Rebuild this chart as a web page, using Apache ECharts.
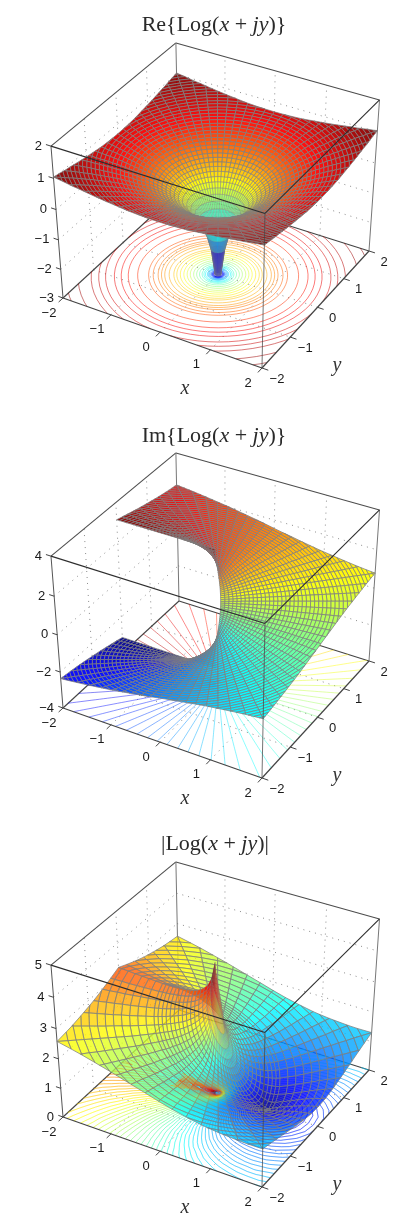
<!DOCTYPE html>
<html><head><meta charset="utf-8">
<style>html,body{margin:0;padding:0;background:#fff}#c{width:404px;height:1227px}</style>
<script src="https://cdn.jsdelivr.net/npm/echarts@6/dist/echarts.min.js"></script>
</head><body><div id="c"></div>
<script>
// ---------- values ----------
const xTicks=[-2,-1,0,1,2];
const yTicks=[-2,-1,0,1,2];
const zTicksRe=[-3,-2,-1,0,1,2];
const zTicksIm=[-4,-2,0,2,4];
const zTicksAbs=[0,1,2,3,4,5];
const ringR=[.05,.12,.19,.26,.33,.40,.47,.54,.61,.68,.75,.82,.89,.96,1.03,1.10,1.17,1.24,1.31,1.38,1.45,1.52,1.59,1.66,1.73,1.80,1.87,1.94,2.01,2.08,2.15,2.22,2.29,2.36,2.43,2.50,2.57,2.64,2.71,2.78,2.85];
const reZ=[-3,-2.12,-1.66,-1.35,-1.11,-.92,-.76,-.62,-.49,-.39,-.29,-.20,-.12,-.04,.03,.10,.16,.22,.27,.32,.37,.42,.46,.51,.55,.59,.63,.66,.70,.73,.77,.80,.83,.86,.89,.92,.94,.97,1.0,1.02,1.05];
const spokeDeg=[-180,-175,-170,-165,-160,-155,-150,-145,-140,-135,-130,-125,-120,-115,-110,-105,-100,-95,-90,-85,-80,-75,-70,-65,-60,-55,-50,-45,-40,-35,-30,-25,-20,-15,-10,-5,0,5,10,15,20,25,30,35,40,45,50,55,60,65,70,75,80,85,90,95,100,105,110,115,120,125,130,135,140,145,150,155,160,165,170,175,180];
const imZ=[-3.14,-3.05,-2.97,-2.88,-2.79,-2.71,-2.62,-2.53,-2.44,-2.36,-2.27,-2.18,-2.09,-2.01,-1.92,-1.83,-1.75,-1.66,-1.57,-1.48,-1.40,-1.31,-1.22,-1.13,-1.05,-.96,-.87,-.79,-.70,-.61,-.52,-.44,-.35,-.26,-.17,-.09,0,.09,.17,.26,.35,.44,.52,.61,.70,.79,.87,.96,1.05,1.13,1.22,1.31,1.40,1.48,1.57,1.66,1.75,1.83,1.92,2.01,2.09,2.18,2.27,2.36,2.44,2.53,2.62,2.71,2.79,2.88,2.97,3.05,3.14];
const absRingR=[.05,.12,.19,.26,.33,.40,.47,.54,.61,.68,.75,.82,.89,.96,1.03,1.10,1.24,1.38,1.52,1.66,1.80,1.94,2.08,2.22,2.36,2.50,2.64,2.85];
const absSpokeDeg=[-180,-172.5,-165,-157.5,-150,-142.5,-135,-127.5,-120,-112.5,-105,-97.5,-90,-82.5,-75,-67.5,-60,-52.5,-45,-37.5,-30,-22.5,-15,-7.5,0,7.5,15,22.5,30,37.5,45,52.5,60,67.5,75,82.5,90,97.5,105,112.5,120,127.5,135,142.5,150,157.5,165,172.5,180];
// rows: absRingR; columns: |angle| 0, 7.5, ... 180 degrees
const absZ=[
[3.00,3.00,3.01,3.03,3.05,3.07,3.10,3.14,3.18,3.22,3.27,3.33,3.39,3.45,3.52,3.59,3.66,3.74,3.81,3.90,3.98,4.07,4.16,4.25,4.34],
[2.12,2.12,2.14,2.16,2.18,2.22,2.26,2.31,2.36,2.43,2.49,2.56,2.64,2.72,2.80,2.89,2.98,3.07,3.17,3.27,3.37,3.47,3.58,3.68,3.79],
[1.66,1.67,1.68,1.71,1.74,1.78,1.84,1.90,1.96,2.04,2.11,2.20,2.29,2.38,2.47,2.57,2.67,2.78,2.88,2.99,3.10,3.21,3.32,3.44,3.55],
[1.35,1.36,1.38,1.41,1.45,1.50,1.56,1.63,1.71,1.79,1.88,1.97,2.07,2.17,2.28,2.38,2.49,2.60,2.72,2.83,2.95,3.06,3.18,3.30,3.42],
[1.11,1.12,1.14,1.18,1.23,1.29,1.36,1.44,1.53,1.62,1.72,1.82,1.92,2.03,2.14,2.26,2.37,2.49,2.60,2.72,2.84,2.96,3.09,3.21,3.33],
[.92,.93,.96,1.00,1.06,1.13,1.21,1.30,1.39,1.49,1.60,1.71,1.82,1.93,2.05,2.17,2.29,2.41,2.53,2.65,2.77,2.90,3.02,3.15,3.27],
[.76,.77,.80,.86,.92,1.00,1.09,1.19,1.29,1.40,1.51,1.63,1.75,1.86,1.98,2.11,2.23,2.35,2.48,2.60,2.73,2.85,2.98,3.11,3.23],
[.62,.63,.67,.73,.81,.90,1.00,1.11,1.22,1.33,1.45,1.57,1.69,1.81,1.93,2.06,2.18,2.31,2.44,2.56,2.69,2.82,2.95,3.07,3.20],
[.49,.51,.56,.63,.72,.82,.93,1.04,1.16,1.28,1.40,1.52,1.65,1.77,1.90,2.02,2.15,2.28,2.41,2.53,2.66,2.79,2.92,3.05,3.18],
[.39,.41,.47,.55,.65,.76,.88,1.00,1.12,1.24,1.37,1.49,1.62,1.75,1.87,2.00,2.13,2.26,2.39,2.52,2.65,2.78,2.91,3.04,3.17],
[.29,.32,.39,.49,.60,.72,.84,.96,1.09,1.21,1.34,1.47,1.60,1.73,1.86,1.98,2.11,2.24,2.37,2.50,2.63,2.76,2.89,3.02,3.16],
[.20,.24,.33,.44,.56,.68,.81,.94,1.07,1.19,1.32,1.45,1.58,1.71,1.84,1.97,2.10,2.23,2.36,2.50,2.63,2.76,2.89,3.02,3.15],
[.12,.18,.29,.41,.54,.66,.79,.92,1.05,1.18,1.31,1.44,1.58,1.71,1.84,1.97,2.10,2.23,2.36,2.49,2.62,2.75,2.88,3.01,3.14],
[.04,.14,.27,.40,.53,.66,.79,.92,1.05,1.18,1.31,1.44,1.57,1.70,1.83,1.96,2.09,2.23,2.36,2.49,2.62,2.75,2.88,3.01,3.14],
[.03,.13,.26,.39,.52,.65,.79,.92,1.05,1.18,1.31,1.44,1.57,1.70,1.83,1.96,2.09,2.23,2.36,2.49,2.62,2.75,2.88,3.01,3.14],
[.10,.16,.28,.40,.53,.66,.79,.92,1.05,1.18,1.31,1.44,1.57,1.70,1.84,1.97,2.10,2.23,2.36,2.49,2.62,2.75,2.88,3.01,3.14],
[.22,.25,.34,.45,.57,.69,.82,.94,1.07,1.20,1.33,1.46,1.59,1.72,1.85,1.98,2.11,2.24,2.37,2.50,2.63,2.76,2.89,3.02,3.15],
[.32,.34,.41,.51,.61,.73,.85,.97,1.09,1.22,1.35,1.47,1.60,1.73,1.86,1.99,2.12,2.25,2.38,2.51,2.64,2.77,2.90,3.03,3.16],
[.42,.44,.49,.57,.67,.78,.89,1.01,1.13,1.25,1.37,1.50,1.63,1.75,1.88,2.01,2.14,2.26,2.39,2.52,2.65,2.78,2.91,3.04,3.17],
[.51,.53,.57,.64,.73,.83,.94,1.05,1.16,1.28,1.40,1.53,1.65,1.78,1.90,2.03,2.16,2.28,2.41,2.54,2.67,2.80,2.92,3.05,3.18],
[.59,.60,.65,.71,.79,.88,.98,1.09,1.20,1.32,1.44,1.56,1.68,1.80,1.93,2.05,2.18,2.30,2.43,2.56,2.68,2.81,2.94,3.07,3.20],
[.66,.67,.71,.77,.84,.93,1.03,1.13,1.24,1.35,1.47,1.58,1.70,1.83,1.95,2.07,2.20,2.32,2.45,2.57,2.70,2.83,2.95,3.08,3.21],
[.73,.74,.78,.83,.90,.98,1.07,1.17,1.28,1.39,1.50,1.61,1.73,1.85,1.97,2.09,2.22,2.34,2.47,2.59,2.72,2.84,2.97,3.10,3.23],
[.80,.81,.84,.89,.96,1.03,1.12,1.22,1.32,1.42,1.53,1.65,1.76,1.88,2.00,2.12,2.24,2.36,2.49,2.61,2.74,2.86,2.99,3.12,3.24],
[.86,.87,.90,.95,1.01,1.08,1.16,1.26,1.36,1.46,1.57,1.68,1.79,1.91,2.02,2.14,2.26,2.39,2.51,2.63,2.76,2.88,3.01,3.13,3.26],
[.92,.93,.96,1.00,1.06,1.13,1.21,1.30,1.39,1.49,1.60,1.71,1.82,1.93,2.05,2.17,2.29,2.41,2.53,2.65,2.77,2.90,3.02,3.15,3.27],
[.97,.98,1.00,1.05,1.10,1.17,1.25,1.33,1.43,1.53,1.63,1.74,1.85,1.96,2.07,2.19,2.31,2.43,2.55,2.67,2.79,2.92,3.04,3.16,3.29],
[1.05,1.06,1.08,1.12,1.17,1.24,1.31,1.39,1.48,1.58,1.68,1.78,1.89,2.00,2.11,2.23,2.34,2.46,2.58,2.70,2.82,2.94,3.07,3.19,3.31]
];
const reLevels=[1.0,.92,.82,.76,.70,.62,.55,.47,.36,.22,.15,.07,.01,-.05,-.14,-.24,-.31,-.40,-.49,-.60,-.71,-.84,-.97,-1.11,-1.27,-1.39,-1.51,-1.66,-1.77,-1.90,-2.04,-2.16,-2.30,-2.41,-2.53,-2.66,-2.81];
const imLevels=[-3.1,-3,-2.9,-2.8,-2.7,-2.6,-2.5,-2.4,-2.3,-2.2,-2.1,-2,-1.9,-1.8,-1.7,-1.6,-1.5,-1.4,-1.3,-1.2,-1.1,-1,-.9,-.8,-.7,-.6,-.5,-.4,-.3,-.2,-.1,.01,.1,.2,.3,.4,.5,.6,.7,.8,.9,1,1.1,1.2,1.3,1.4,1.5,1.6,1.7,1.8,1.9,2,2.1,2.2,2.3,2.4,2.5,2.6,2.7,2.8,2.9,3,3.1];
const absLevels=[.1,.15,.2,.25,.3,.35,.4,.45,.5,.55,.6,.65,.7,.75,.8,.85,.9,.95,1,1.05,1.1,1.15,1.2,1.25,1.3,1.35,1.4,1.45,1.5,1.55,1.6,1.65,1.7,1.75,1.8,1.85,1.9,1.95,2,2.05,2.1,2.15,2.2,2.25,2.3,2.35,2.4,2.45,2.5,2.55,2.6,2.65,2.7,2.75,2.8,2.85,2.9,2.95,3,3.05,3.1,3.15,3.2,3.3,3.4,3.5,3.6,3.7,3.8,3.9,4,4.1,4.2];

// ---------- view ----------
const CAM=[[186.56,129.26,-15.54,63],[52.53,-92.85,-162,298],[-.04747,.0741,-.0694,1]];
const SANS='"Liberation Sans",Arial,sans-serif', SERIF='"Liberation Serif",serif';
const panels=[
 {dy:0,  zMin:-3,zMax:2,cMin:-3,cMax:1.04,zTicks:zTicksRe,rings:ringR,spokes:spokeDeg,z:(i,j)=>reZ[i],levels:reLevels,alpha:.94,cAlpha:.62,fade:.9,ghost:0},
 {dy:410,zMin:-4,zMax:4,cMin:-3.14,cMax:3.14,zTicks:zTicksIm,rings:ringR,spokes:spokeDeg,z:(i,j)=>imZ[j],levels:imLevels,alpha:.94,cAlpha:.55,fade:0,ghost:0},
 {dy:819,zMin:0,zMax:5,cMin:0,cMax:4,zTicks:zTicksAbs,rings:absRingR,spokes:absSpokeDeg,z:(i,j)=>absZ[i][Math.abs(j-24)],levels:absLevels,alpha:.8,cAlpha:.6,fade:.4,ghost:.3}
];
function project(p,u,v,t){
  const w=CAM[2][0]*u+CAM[2][1]*v+CAM[2][2]*t+CAM[2][3];
  return [(CAM[0][0]*u+CAM[0][1]*v+CAM[0][2]*t+CAM[0][3])/w,(CAM[1][0]*u+CAM[1][1]*v+CAM[1][2]*t+CAM[1][3])/w+p.dy];
}
function norm(p,q){return [(q[0]+2)/4,(q[1]+2)/4,(q[2]-p.zMin)/(p.zMax-p.zMin)];}
function jet(s){
  s=Math.max(0,Math.min(1,s));
  const c=x=>Math.round(255*Math.max(0,Math.min(1,1.5-Math.abs(4*s-x))));
  return [c(3),c(2),c(1)];
}
function colour(p,z,a){const c=jet((z-p.cMin)/(p.cMax-p.cMin));return `rgba(${c[0]},${c[1]},${c[2]},${a})`;}
function node(p,i,j){const a=p.spokes[j]*Math.PI/180,r=p.rings[i];return [r*Math.cos(a),r*Math.sin(a),p.z(i,j)];}
function clipPoly(pts){
  for(const [ax,sgn] of [[0,1],[0,-1],[1,1],[1,-1]]){
    const out=[];
    for(let k=0;k<pts.length;k++){
      const a=pts[k],b=pts[(k+1)%pts.length],da=2-sgn*a[ax],db=2-sgn*b[ax];
      if(da>=0)out.push(a);
      if(da*db<0){const m=da/(da-db);out.push([a[0]+m*(b[0]-a[0]),a[1]+m*(b[1]-a[1]),a[2]+m*(b[2]-a[2])]);}
    }
    pts=out;if(!pts.length)return pts;
  }
  return pts;
}
function buildCells(p){
  const cells=[];
  for(let i=0;i<p.rings.length-1;i++)for(let j=0;j<p.spokes.length-1;j++){
    const poly=clipPoly([node(p,i,j),node(p,i,j+1),node(p,i+1,j+1),node(p,i+1,j)]);
    if(poly.length<3)continue;
    const n=poly.map(q=>norm(p,q));
    let key=0,z=0;
    n.forEach((m,k)=>{key+=.106*m[0]-.2*m[1]+.2*m[2];z+=poly[k][2];});
    const f=p.fade?Math.min(1,p.rings[i]/p.fade):1;
    cells.push({n,key:key/n.length,z:z/n.length,f});
  }
  return cells.sort((a,b)=>a.key-b.key);
}
function clipSeg(a,b){
  let t0=0,t1=1;
  for(const [ax,sgn] of [[0,1],[0,-1],[1,1],[1,-1]]){
    const da=2-sgn*a[ax],db=2-sgn*b[ax];
    if(da<0&&db<0)return null;
    if(da<0)t0=Math.max(t0,da/(da-db));
    if(db<0)t1=Math.min(t1,da/(da-db));
  }
  if(t0>=t1)return null;
  return [[a[0]+t0*(b[0]-a[0]),a[1]+t0*(b[1]-a[1])],[a[0]+t1*(b[0]-a[0]),a[1]+t1*(b[1]-a[1])]];
}
function contourSegments(p,lev){
  const segs=[];
  for(let i=0;i<p.rings.length-1;i++)for(let j=0;j<p.spokes.length-1;j++){
    const q=[node(p,i,j),node(p,i,j+1),node(p,i+1,j+1),node(p,i+1,j)],hit=[];
    for(let k=0;k<4;k++){
      const a=q[k],b=q[(k+1)%4];
      if((a[2]<lev)!==(b[2]<lev)){const m=(lev-a[2])/(b[2]-a[2]);hit.push([a[0]+m*(b[0]-a[0]),a[1]+m*(b[1]-a[1])]);}
    }
    for(let k=0;k+1<hit.length;k+=2){const s=clipSeg(hit[k],hit[k+1]);if(s)segs.push(s);}
  }
  return segs;
}
const fmt=v=>String(v).replace('-','\u2212');
const LINE=(a,b,color,width,dash)=>({a,b,color,width:width||1,dash});
function backLines(p){
  const L=[],dot='#8c8c8c',ts=p.zTicks.map(z=>(z-p.zMin)/(p.zMax-p.zMin));
  for(const x of xTicks.slice(1,-1)){const u=(x+2)/4;L.push(LINE([u,1,0],[u,1,1],dot,1,[1,5]),LINE([u,0,0],[u,1,0],dot,1,[1,5]));}
  for(const y of yTicks.slice(1,-1)){const v=(y+2)/4;L.push(LINE([0,v,0],[0,v,1],dot,1,[1,5]),LINE([0,v,0],[1,v,0],dot,1,[1,5]));}
  for(const t of ts.slice(1,-1)){L.push(LINE([0,0,t],[0,1,t],dot,1,[1,5]),LINE([0,1,t],[1,1,t],dot,1,[1,5]));}
  L.push(LINE([0,0,1],[0,1,1],'#4d4d4d',1.1),LINE([0,1,1],[1,1,1],'#4d4d4d',1.1),LINE([0,1,0],[0,1,1],'#777'),LINE([0,0,0],[0,1,0],'#444',1.1),LINE([0,1,0],[1,1,0],'#444',1.1),LINE([0,0,0],[0,0,1],'#555'),LINE([1,1,0],[1,1,1],'#777'));
  return L;
}
function frontLines(p){
  const L=[LINE([0,0,1],[1,0,1],'#2e2e2e',1.1),LINE([1,0,1],[1,1,1],'#2e2e2e',1.1),LINE([1,0,0],[1,0,1],'rgba(70,70,70,.75)'),LINE([0,0,0],[1,0,0],'#444',1.2),LINE([1,0,0],[1,1,0],'#444',1.2)];
  xTicks.forEach(x=>{const u=(x+2)/4;L.push(LINE([u,0,0],[u,-.035,0],'#444'));});
  yTicks.forEach(y=>{const v=(y+2)/4;L.push(LINE([1,v,0],[1.03,v,0],'#444'));});
  p.zTicks.forEach(z=>{const t=(z-p.zMin)/(p.zMax-p.zMin);L.push(LINE([0,0,t],[-.025,0,t],'#444'));});
  return L;
}
function labels(p){
  const T=[];
  xTicks.forEach(x=>T.push({at:[(x+2)/4,0,0],dx:-14,dy:15,text:fmt(x),align:'center'}));
  yTicks.forEach(y=>T.push({at:[1,(y+2)/4,0],dx:15,dy:11,text:fmt(y),align:'center'}));
  p.zTicks.forEach(z=>T.push({at:[0,0,(z-p.zMin)/(p.zMax-p.zMin)],dx:-9,dy:0,text:fmt(z),align:'right'}));
  return T;
}
const xy=(api,p,n)=>{const q=project(p,n[0],n[1],n[2]);return api.coord(q);};
function lineSeries(p,list){
  return {type:'custom',coordinateSystem:'cartesian2d',silent:true,animation:false,clip:false,progressive:0,
    data:list.map((_,i)=>[i]),
    renderItem(_,api){
      const l=list[api.value(0)],a=xy(api,p,l.a),b=xy(api,p,l.b);
      return {type:'line',shape:{x1:a[0],y1:a[1],x2:b[0],y2:b[1]},style:{stroke:l.color,lineWidth:l.width,lineDash:l.dash||null}};
    }};
}
function contourSeries(p,alpha,width,keep){
  const sets=p.levels.map(l=>{const s=contourSegments(p,l);return keep?s.filter(q=>keep(q,l)):s;});
  return {type:'custom',coordinateSystem:'cartesian2d',silent:true,animation:false,clip:false,progressive:0,
    data:p.levels.map((l,i)=>[i,l]),
    renderItem(_,api){
      const i=api.value(0);let d='';
      for(const s of sets[i]){
        const a=xy(api,p,[(s[0][0]+2)/4,(s[0][1]+2)/4,0]),b=xy(api,p,[(s[1][0]+2)/4,(s[1][1]+2)/4,0]);
        d+=`M${a[0].toFixed(2)} ${a[1].toFixed(2)}L${b[0].toFixed(2)} ${b[1].toFixed(2)}`;
      }
      if(!d)return null;
      return {type:'path',shape:{pathData:d},style:{fill:null,stroke:colour(p,p.levels[i],alpha),lineWidth:width}};
    }};
}
function surfaceSeries(p){
  const cells=buildCells(p);
  return {type:'custom',coordinateSystem:'cartesian2d',silent:true,animation:false,clip:false,progressive:0,
    data:cells.map((c,i)=>[i,c.z]),
    renderItem(_,api){
      const c=cells[api.value(0)];
      return {type:'polygon',shape:{points:c.n.map(n=>xy(api,p,n))},style:{fill:colour(p,c.z,p.alpha),stroke:`rgba(128,128,128,${(.5+.45*c.f).toFixed(2)})`,lineWidth:.35+.45*c.f}};
    }};
}
function textSeries(p,list){
  return {type:'custom',coordinateSystem:'cartesian2d',silent:true,animation:false,clip:false,progressive:0,
    data:list.map((_,i)=>[i]),
    renderItem(_,api){
      const l=list[api.value(0)];
      const q=project(p,l.at[0],l.at[1],l.at[2]),c=api.coord([q[0]+l.dx,q[1]+l.dy]);
      return {type:'text',style:{x:c[0],y:c[1],text:l.text,fill:'#1a1a1a',align:l.align,verticalAlign:'middle',fontSize:13,fontFamily:SANS}};
    }};
}
function axisNameSeries(p){
  const names=[{t:'x',at:[185,389]},{t:'y',at:[337,366]}];
  return {type:'custom',coordinateSystem:'cartesian2d',silent:true,animation:false,clip:false,progressive:0,
    data:names.map((_,i)=>[i]),
    renderItem(_,api){
      const n=names[api.value(0)],c=api.coord([n.at[0],n.at[1]+p.dy]);
      return {type:'text',style:{x:c[0],y:c[1],text:n.t,fill:'#333',align:'center',verticalAlign:'middle',fontSize:20,fontStyle:'italic',fontFamily:SERIF}};
    }};
}
const TS=22;
const rich={r:{fontFamily:SERIF,fontSize:TS,color:'#2a2a2a'},i:{fontFamily:SERIF,fontSize:TS,fontStyle:'italic',color:'#2a2a2a'}};
const titleBase={fontFamily:SERIF,fontSize:TS,color:'#2a2a2a',fontWeight:'normal',rich};
const titles=[
 {text:'{r|Re{Log(}{i|x}{r| + }{i|jy}{r|)}}',left:214,top:14,textAlign:'center',textStyle:titleBase,padding:0},
 {text:'{r|Im{Log(}{i|x}{r| + }{i|jy}{r|)}}',left:214,top:425,textAlign:'center',textStyle:titleBase,padding:0},
 {text:'{r|\u007cLog(}{i|x}{r| + }{i|jy}{r|)\u007c}',left:215,top:833,textAlign:'center',textStyle:titleBase,padding:0}
];
const series=[];
panels.forEach(p=>{
  series.push(lineSeries(p,backLines(p)),contourSeries(p,p.cAlpha,.85),surfaceSeries(p));
  if(p.ghost){
    series.push(contourSeries(p,p.ghost,.7));
    // floor contours showing through the surface along the branch cut
    series.push(contourSeries(p,.8,.7,(s,l)=>{const x=s[0][0],y=s[0][1];return l>=2.5&&x<-.1&&x>-.8&&Math.abs(y)<.3*Math.abs(x);}));
  }
  series.push(lineSeries(p,frontLines(p)),textSeries(p,labels(p)),axisNameSeries(p));
});
const chart=echarts.init(document.getElementById('c'),null,{renderer:'canvas'});
chart.setOption({
  animation:false,backgroundColor:'#fff',title:titles,tooltip:{show:false},
  grid:{left:0,top:0,width:404,height:1227,containLabel:false},
  xAxis:{type:'value',min:0,max:404,show:false},
  yAxis:{type:'value',min:0,max:1227,inverse:true,show:false},
  series
});
</script></body></html>
